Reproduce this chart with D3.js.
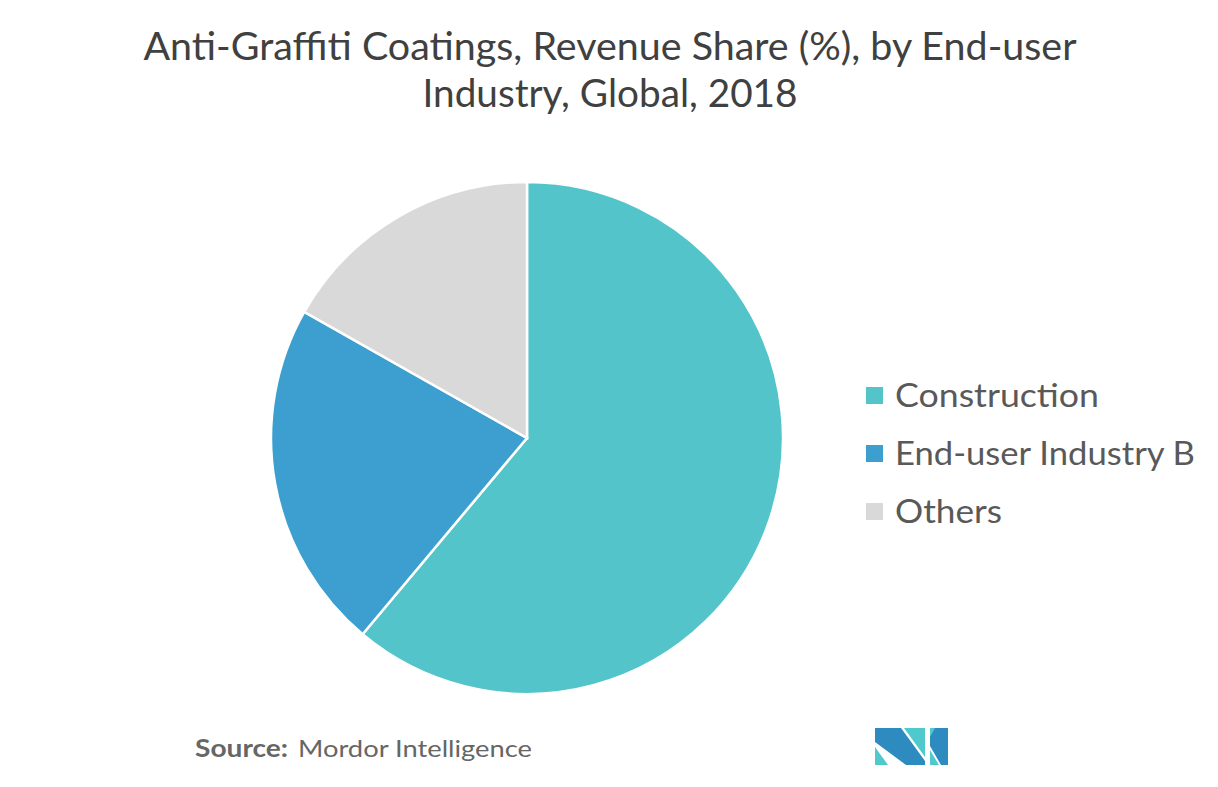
<!DOCTYPE html>
<html>
<head>
<meta charset="utf-8">
<script src="https://cdn.jsdelivr.net/npm/d3@7"></script>
<style>
  html, body { margin: 0; padding: 0; background: #fff; }
  svg { display: block; font-family: Lato, "Open Sans", sans-serif; }
</style>
</head>
<body>
<svg id="chart" width="1218" height="787"></svg>
<script>
const titleLines = ["Anti-Graffiti Coatings, Revenue Share (%), by End-user", "Industry, Global, 2018"];
const categories = ["Construction", "End-user Industry B", "Others"];
const values = [61.1, 22.1, 16.8];
const colors = ["#53C4C9", "#3D9FD0", "#D9D9D9"];
const sourceLabel = "Source:";
const sourceText = "Mordor Intelligence";

const svg = d3.select("#chart");

// Title
const title = svg.append("text")
  .attr("text-anchor", "middle")
  .attr("fill", "#404040")
  .style("font-size", "38px");
title.append("tspan").attr("x", 610).attr("y", 60)
  .attr("textLength", 933).attr("lengthAdjust", "spacingAndGlyphs")
  .text(titleLines[0]);
title.append("tspan").attr("x", 610).attr("y", 107)
  .attr("textLength", 375).attr("lengthAdjust", "spacingAndGlyphs")
  .text(titleLines[1]);

// Pie
const cx = 527, cy = 438, r = 256;
const pie = d3.pie().sort(null).value(d => d);
const arc = d3.arc().innerRadius(0).outerRadius(r);
const g = svg.append("g").attr("transform", `translate(${cx},${cy})`);
g.selectAll("path").data(pie(values)).join("path")
  .attr("d", arc)
  .attr("fill", (d, i) => colors[i])
  .attr("stroke", "#fff")
  .attr("stroke-width", 2.5)
  .attr("stroke-linejoin", "miter");

// Legend
const legendWidths = {"Construction": 204, "End-user Industry B": 300, "Others": 107};
const legend = svg.append("g");
const rowY = d3.scalePoint().domain(categories).range([395, 511]);
const rows = legend.selectAll("g").data(categories).join("g")
  .attr("transform", d => `translate(866,${rowY(d)})`);
rows.append("rect").attr("x", 0).attr("y", -8).attr("width", 17).attr("height", 17)
  .attr("fill", (d, i) => colors[i]);
rows.append("text").attr("x", 29).attr("y", 0).attr("dy", "0.35em")
  .attr("fill", "#595959").style("font-size", "33px")
  .attr("textLength", d => legendWidths[d]).attr("lengthAdjust", "spacingAndGlyphs")
  .text(d => d);

// Source
svg.append("text").attr("x", 195).attr("y", 757)
  .attr("fill", "#666").style("font-size", "24px").style("font-weight", "bold")
  .attr("textLength", 93).attr("lengthAdjust", "spacingAndGlyphs")
  .text(sourceLabel);
svg.append("text").attr("x", 298).attr("y", 757)
  .attr("fill", "#666").style("font-size", "24px")
  .attr("textLength", 234).attr("lengthAdjust", "spacingAndGlyphs")
  .text(sourceText);

// Logo
const logo = svg.append("g").attr("transform", "translate(875,728)");
const dark = "#2E8BC0", teal = "#4FC9CC";
const polys = [
  {p: [[0,19],[0,37],[13,37]], c: teal},
  {p: [[0,0],[26,0],[50,33],[50,37],[31,37],[0,14]], c: dark},
  {p: [[29,0],[50,0],[50,29]], c: teal},
  {p: [[55,0],[73,0],[73,37],[66,37],[55,18]], c: dark},
  {p: [[55,22],[64,37],[55,37]], c: teal},
  {p: [[55,0],[60,0],[55,9]], c: teal}
];
logo.selectAll("polygon").data(polys).join("polygon")
  .attr("points", d => d.p.map(q => q.join(",")).join(" "))
  .attr("fill", d => d.c);
</script>
</body>
</html>
